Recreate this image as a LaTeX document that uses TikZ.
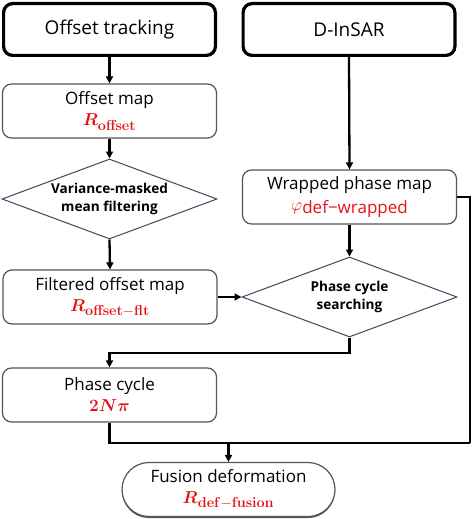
\documentclass[tikz,border=0pt]{standalone}
\usepackage[no-math]{fontspec}
\setmainfont{Open Sans}
\usepackage{amsmath,bm}
\usetikzlibrary{shapes.geometric,shapes.misc,arrows.meta,shadows}
\definecolor{hred}{RGB}{228,18,24}
\definecolor{dgray}{RGB}{85,85,85}
\definecolor{slate}{RGB}{60,70,95}
\newcommand\redR[1]{\textcolor{hred}{\fontsize{19}{22}\selectfont$\bm{R}_{\mathbf{#1}}$}}
\begin{document}
\begin{tikzpicture}[x=1pt,y=-1pt,
 topbox/.style={draw=black, line width=3.2pt, rounded corners=9pt, minimum width=211.8pt, minimum height=51.8pt, inner sep=0pt, font=\fontsize{19}{22}\selectfont},
 mapbox/.style={draw=dgray, line width=1.2pt, rounded corners=9pt, minimum width=214pt, minimum height=54pt, align=center, inner sep=0pt, font=\fontsize{17}{20}\selectfont},
 endbox/.style={rounded rectangle, draw=dgray, line width=1.2pt, minimum width=213pt, minimum height=54pt, align=center, inner sep=0pt, font=\fontsize{17}{20}\selectfont, fill=white, drop shadow={shadow xshift=0pt, shadow yshift=-1.6pt, fill=black!65, opacity=1}},
 decide/.style={diamond, aspect=2.69, draw=slate, line width=1pt, minimum width=215pt, minimum height=80pt, inner sep=0pt, align=center, font=\bfseries\fontsize{13.6}{18.5}\selectfont},
 conn/.style={line width=2.3pt, draw=black},
 arr/.style={conn, -{Triangle[length=7pt,width=7pt]}}
]
\useasboundingbox (0,0) rectangle (474,519);

\node[topbox] (track) at (109.5,29.5) {Offset tracking};
\node[topbox] (dinsar) at (349,29.5) {D-InSAR};
\node[mapbox] (omap) at (109.5,111) {Offset map\\[1pt]\redR{offset}};
\node[decide] (d1) at (109.5,199) {Variance-masked\\mean filtering};
\node[mapbox] (fmap) at (110,297) {Filtered offset map\\[1pt]\redR{offset-flt}};
\node[mapbox] (wmap) at (349.5,197) {Wrapped phase map\\[1pt]\textcolor{hred}{\fontsize{19}{22}\selectfont$\varphi$\raisebox{-3pt}{\fontsize{17}{20}\selectfont def−wrapped}}};
\node[decide] (d2) at (349.5,297) {Phase cycle\\searching};
\node[mapbox] (pcyc) at (109.5,395) {Phase cycle\\[1pt]\textcolor{hred}{\fontsize{19}{22}\selectfont$\bm{2N\pi}$}};
\node[endbox] (fus) at (228.5,489.5) {Fusion deformation\\[1pt]\redR{def-fusion}};

\coordinate (rc) at (470,443);
\coordinate (mid) at (0,353);

\draw[arr] (track.south) -- (omap.north);
\draw[arr] (omap.south) -- (d1.north);
\draw[arr] (d1.south) -- (fmap.north);
\draw[arr] (fmap.east) -- (d2.west);
\draw[arr] (dinsar.south) -- (wmap.north);
\draw[arr] (wmap.south) -- (d2.north);
\draw[arr] (d2.south) -- (d2.south |- mid) -| (pcyc.north);
\draw[conn] (wmap.east) -| (rc);
\draw[conn] (pcyc.south) |- (rc);
\draw[arr] (fus.north |- rc) -- (fus.north);
\end{tikzpicture}
\end{document}
